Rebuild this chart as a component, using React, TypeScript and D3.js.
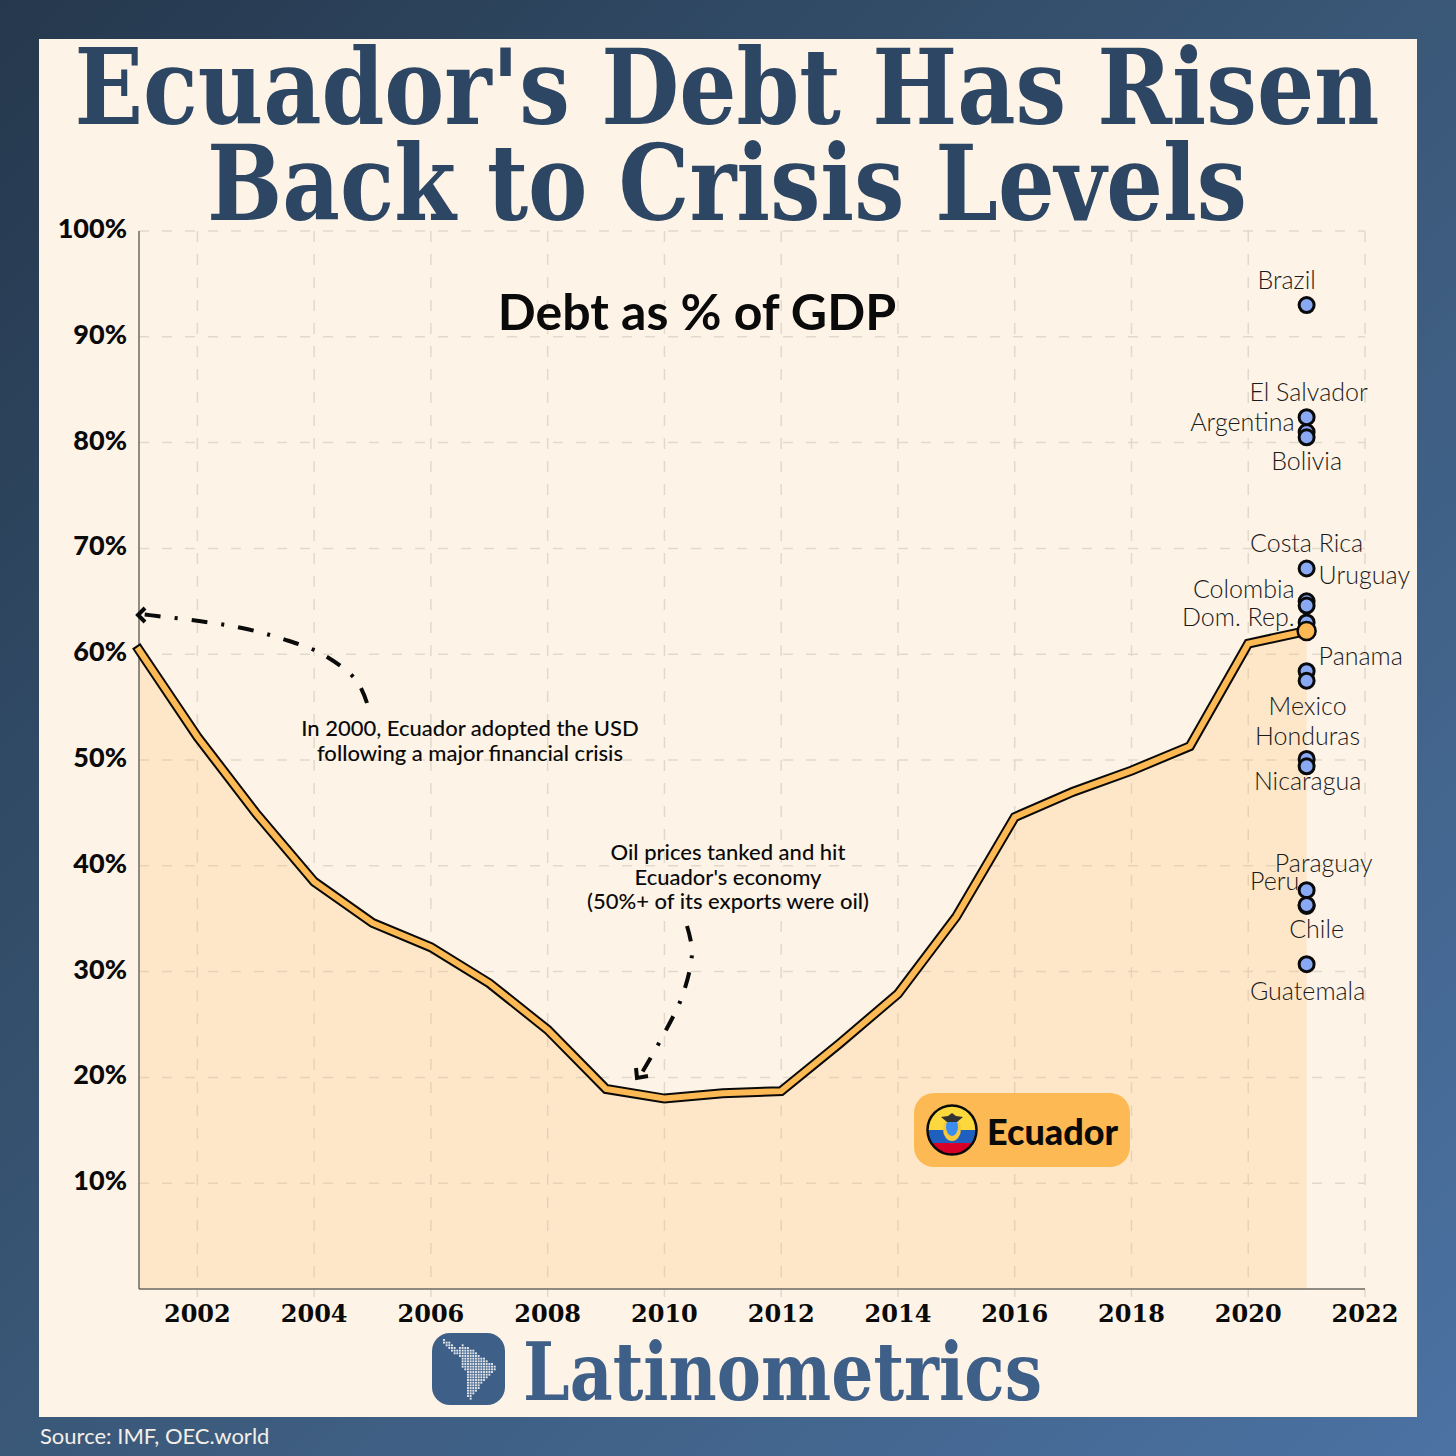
import * as d3 from "d3";

const years = d3.range(2001, 2022);
const ecuadorDebt = [60.4, 52.2, 45, 38.5, 34.6, 32.3, 28.9, 24.5, 18.9, 18, 18.5, 18.7, 23.2, 27.9, 35.2, 44.6, 47, 49, 51.3, 61, 62.2];

const countries = ["Brazil", "Argentina", "El Salvador", "Bolivia", "Costa Rica", "Uruguay", "Colombia", "Dom. Rep.", "Panama", "Mexico", "Honduras", "Nicaragua", "Paraguay", "Peru", "Chile", "Guatemala"];
const countryDebt = [93, 81, 82.4, 80.5, 68.1, 65, 64.6, 63, 58.4, 57.5, 50.1, 49.4, 37.7, 36.2, 36.3, 30.7];

const xTicks = d3.range(2002, 2023, 2);
const yTicks = d3.range(10, 101, 10);

// label placement relative to each dot: dx, dy, anchor
const labelOffsets: Record<string, [number, number, string]> = {
  Brazil: [-20, -16, "middle"],
  Argentina: [-12, -1, "end"],
  "El Salvador": [2, -16, "middle"],
  Bolivia: [0, 33, "middle"],
  "Costa Rica": [0, -17, "middle"],
  Uruguay: [12, -17, "start"],
  Colombia: [-12, -8, "end"],
  "Dom. Rep.": [-12, 4, "end"],
  Panama: [12, -6, "start"],
  Mexico: [1, 34, "middle"],
  Honduras: [1, -14, "middle"],
  Nicaragua: [1, 24, "middle"],
  Paraguay: [17, -18, "middle"],
  Peru: [-32, -16, "middle"],
  Chile: [10, 33, "middle"],
  Guatemala: [1, 36, "middle"],
};

// dotted map in the logo, one [start, end] column span per row
const mapRows: [number, number][][] = [
  [[0, 0]], [[0, 2]], [[1, 3], [7, 7]], [[2, 4], [6, 9]], [[3, 6], [7, 11]], [[4, 12]], [[6, 13]], [[7, 15]],
  [[7, 16]], [[7, 18]], [[7, 19]], [[8, 19]], [[9, 18]], [[9, 17]], [[9, 16]], [[9, 15]], [[9, 14]], [[9, 13]],
  [[9, 13]], [[9, 12]], [[9, 11]], [[9, 10]], [[10, 10]],
];

const x = d3.scaleLinear().domain([2001, 2022]).range([139, 1365]);
const y = d3.scaleLinear().domain([0, 100]).range([1289, 231]);

const linePath = d3.line<number>().x((_, i) => x(years[i])).y((d) => y(d));
const areaPath = d3.area<number>().x((_, i) => x(years[i])).y0(y(0)).y1((d) => y(d));
const arrowCurve = d3.line().curve(d3.curveCatmullRom);

const arrowOne: [number, number][] = [[367, 703], [356, 680], [322, 654], [283, 639], [242, 628], [199, 621], [157, 616], [140, 614]];
const arrowTwo: [number, number][] = [[687, 926], [692, 952], [683, 994], [665, 1032], [640, 1076]];

const SERIF = "'DejaVu Serif', serif";
const SANS = "Lato, sans-serif";
const INK = "#0a0a0a";
const ORANGE = "#fdb953";
const DASH = "#e2d9cd";

export default function App() {
  return (
    <svg width={1456} height={1456} viewBox="0 0 1456 1456" style={{ position: "absolute", left: 0, top: 0 }}>
      <defs>
        <linearGradient id="bg" x1="0" y1="0" x2="1" y2="1">
          <stop offset="0" stopColor="#25384d" />
          <stop offset="0.5" stopColor="#3a5878" />
          <stop offset="1" stopColor="#4b72a3" />
        </linearGradient>
        <clipPath id="flag">
          <circle cx={952} cy={1130} r={24} />
        </clipPath>
      </defs>
      <rect width={1456} height={1456} fill="url(#bg)" />
      <rect x={39} y={39} width={1378} height={1378} fill="#fef3e7" />

      {/* title */}
      <g fontFamily={SERIF} fontWeight={700} fill="#2d4663" textAnchor="middle" fontSize={104}>
        <text x={727} y={124} textLength={1305} lengthAdjust="spacingAndGlyphs">Ecuador's Debt Has Risen</text>
        <text x={727} y={220} textLength={1040} lengthAdjust="spacingAndGlyphs">Back to Crisis Levels</text>
      </g>

      {/* grid */}
      {yTicks.map((t) => (
        <line key={t} x1={x(2001)} x2={x(2022)} y1={y(t)} y2={y(t)} stroke={DASH} strokeWidth={1.5} strokeDasharray="10 13" />
      ))}
      {xTicks.map((t) => (
        <line key={t} x1={x(t)} x2={x(t)} y1={y(100)} y2={y(0) + 8} stroke={DASH} strokeWidth={1.5} strokeDasharray="11 12" />
      ))}

      {/* ecuador area */}
      <path d={areaPath(ecuadorDebt) ?? ""} fill="#fdb953" fillOpacity={0.2} />

      {/* axes */}
      <line x1={x(2001)} x2={x(2001)} y1={y(100)} y2={y(0)} stroke="#6b6862" strokeWidth={1.5} />
      <line x1={x(2001)} x2={x(2022)} y1={y(0)} y2={y(0)} stroke="#6b6862" strokeWidth={1.5} />

      <g fontFamily={SANS} fontWeight={900} fontSize={27} fill={INK} textAnchor="end">
        {yTicks.map((t) => (
          <text key={t} x={127} y={y(t) + 7}>{t}%</text>
        ))}
      </g>
      <g fontFamily={SERIF} fontWeight={700} fontSize={24} fill={INK} textAnchor="middle">
        {xTicks.map((t) => (
          <text key={t} x={x(t)} y={1322}>{t}</text>
        ))}
      </g>

      <text x={697} y={330} fontFamily={SANS} fontWeight={700} fontSize={50} fill={INK} textAnchor="middle">Debt as % of GDP</text>

      {/* annotations */}
      <g fontFamily={SANS} fontWeight={500} fontSize={22} fill={INK} textAnchor="middle">
        <text x={470} y={736}>In 2000, Ecuador adopted the USD</text>
        <text x={470} y={761}>following a major financial crisis</text>
        <text x={728} y={860}>Oil prices tanked and hit</text>
        <text x={728} y={885}>Ecuador's economy</text>
        <text x={728} y={909}>(50%+ of its exports were oil)</text>
      </g>
      <g fill="none" stroke={INK} strokeWidth={4}>
        <path d={arrowCurve(arrowOne) ?? ""} strokeDasharray="16 14 3 14" />
        <path d="M145,608 L138,615 L145,622" />
        <path d={arrowCurve(arrowTwo) ?? ""} strokeDasharray="16 14 3 14" />
        <path d="M636,1068 L637,1078 L648,1076" />
      </g>

      {/* ecuador line */}
      <path d={linePath(ecuadorDebt) ?? ""} fill="none" stroke={INK} strokeWidth={10} strokeLinecap="square" strokeLinejoin="miter" />
      <path d={linePath(ecuadorDebt) ?? ""} fill="none" stroke={ORANGE} strokeWidth={6} strokeLinecap="square" strokeLinejoin="miter" />

      {/* other countries in 2021 */}
      {countries.map((c, i) => {
        const [dx, dy, anchor] = labelOffsets[c];
        return (
          <text key={c} x={x(2021) + dx} y={y(countryDebt[i]) + dy} textAnchor={anchor as "start"} fontFamily={SANS} fontWeight={300} fontSize={25} fill="#1a1a1a">
            {c}
          </text>
        );
      })}
      {countries.map((c, i) => (
        <circle key={c} cx={x(2021)} cy={y(countryDebt[i])} r={7.5} fill="#8aa9f5" stroke={INK} strokeWidth={3} />
      ))}
      <circle cx={x(2021)} cy={y(ecuadorDebt[20])} r={9} fill={ORANGE} stroke={INK} strokeWidth={2.5} />

      {/* ecuador badge */}
      <rect x={914} y={1093} width={216} height={74} rx={20} fill={ORANGE} />
      <g clipPath="url(#flag)">
        <rect x={926} y={1104} width={52} height={26} fill="#fcd83c" />
        <rect x={926} y={1130} width={52} height={13} fill="#1f5fbf" />
        <rect x={926} y={1143} width={52} height={13} fill="#d80027" />
      </g>
      <ellipse cx={952} cy={1129} rx={9} ry={12} fill="#f5c93a" />
      <ellipse cx={952} cy={1127} rx={6} ry={9} fill="#3b8cf0" />
      <path d="M941,1117 L948,1116 L952,1113 L956,1116 L963,1117 L957,1122 L947,1122 Z" fill="#333" />
      <circle cx={952} cy={1130} r={24.5} fill="none" stroke={INK} strokeWidth={2.5} />
      <text x={987} y={1145} fontFamily={SANS} fontWeight={900} fontSize={36} fill={INK}>Ecuador</text>

      {/* logo */}
      <rect x={432} y={1333} width={73} height={72} rx={18} fill="#3e5f87" />
      {mapRows.map((spans, r) =>
        spans.map(([a, b]) =>
          d3.range(a, b + 1).map((col) => (
            <rect key={`${r}-${col}`} x={443 + col * 2.67} y={1339 + r * 2.67} width={1.9} height={1.9} fill="#e6e9ee" />
          ))
        )
      )}
      <text x={523} y={1400} fontFamily={SERIF} fontWeight={700} fontSize={80} fill="#3e5f87" textLength={519} lengthAdjust="spacingAndGlyphs">Latinometrics</text>

      <text x={40} y={1444} fontFamily={SANS} fontWeight={400} fontSize={22} fill="#f4efe8">Source: IMF, OEC.world</text>
    </svg>
  );
}
